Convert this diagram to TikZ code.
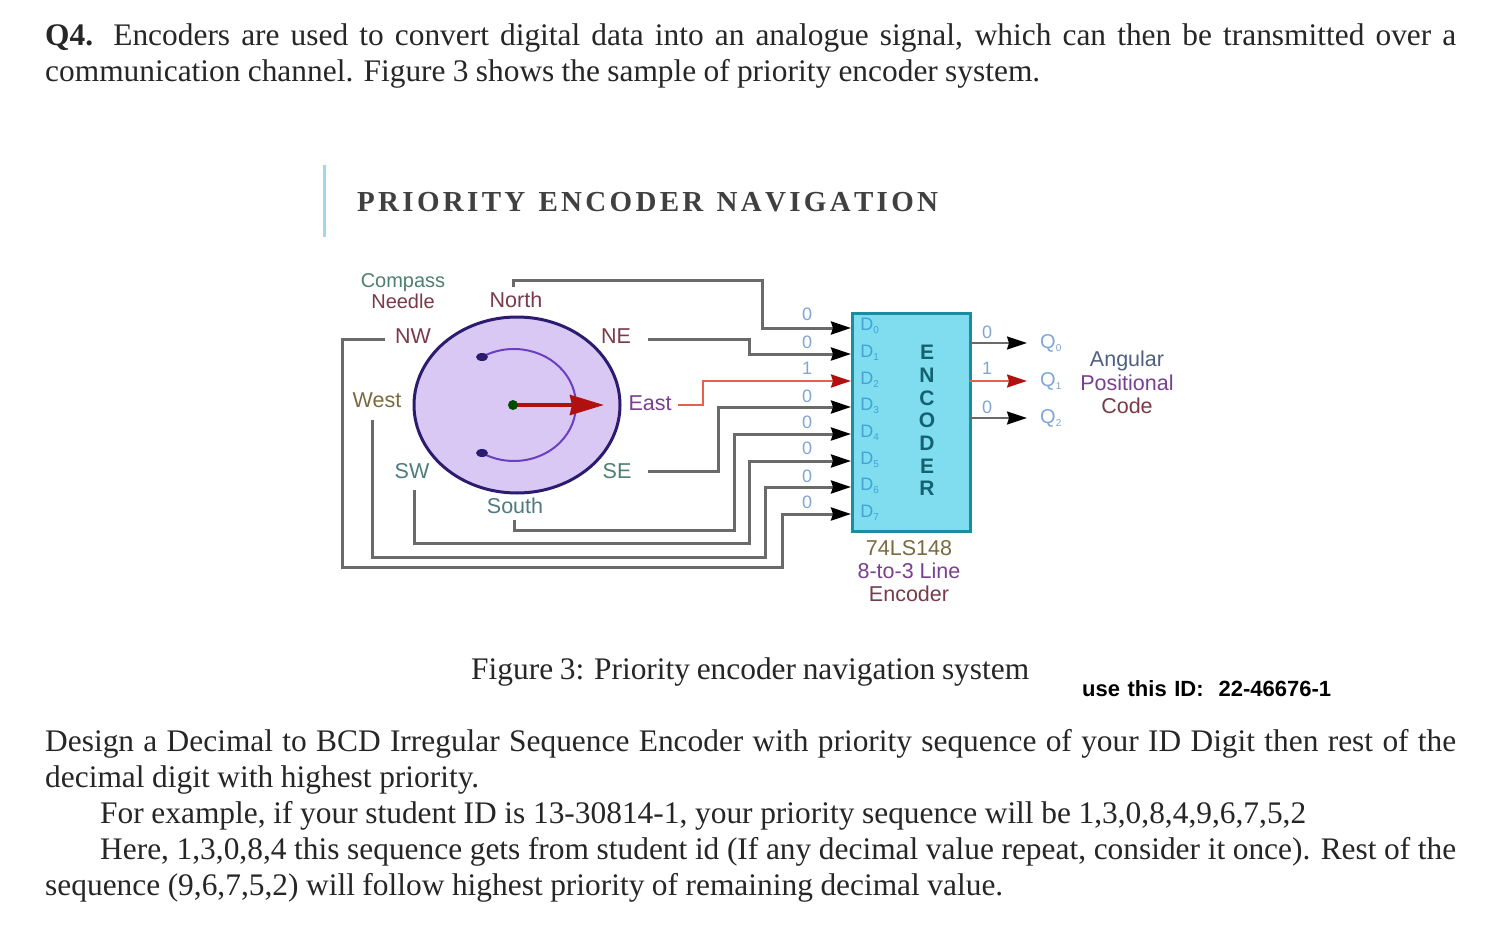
\documentclass[tikz,border=0pt]{standalone}
\usepackage{fontspec}
\setmainfont{Liberation Serif}
\setsansfont{Liberation Sans}
\usetikzlibrary{arrows.meta}
\definecolor{wiregray}{HTML}{6A6A6A}
\definecolor{wirered}{HTML}{E8604C}
\definecolor{bitblue}{HTML}{7FA6D6}
\definecolor{pinblue}{HTML}{3FA3D6}
\definecolor{boxfill}{HTML}{80DDF0}
\definecolor{boxline}{HTML}{1C8CA0}
\definecolor{dialfill}{HTML}{D9C8F3}
\definecolor{dialline}{HTML}{2C1C70}
\definecolor{arcline}{HTML}{6A3FC0}
\definecolor{needle}{HTML}{B01010}
\definecolor{titlebar}{HTML}{A5D5EC}
\definecolor{labgreen}{HTML}{4F7F70}
\definecolor{labred}{HTML}{7A3A4A}
\definecolor{labcyan}{HTML}{4F7A80}
\definecolor{laborange}{HTML}{7A6A40}
\definecolor{labviolet}{HTML}{7A3F90}
\definecolor{labblue}{HTML}{4F5F80}
\newcommand{\bodyline}[1]{\makebox[#1][s]}
\tikzset{
  x=1pt,y=-1pt,
  bodytext/.style={anchor=base west,inner sep=0pt,font=\fontsize{31.4}{36}\selectfont,text=black!85},
  lab/.style={inner sep=0pt,font=\sffamily\fontsize{21.5}{24}\selectfont,text=#1},
  lab/.default=black!70,
  smalllab/.style={inner sep=0pt,font=\sffamily\fontsize{20}{22}\selectfont,text=#1},
  bit/.style={inner sep=0pt,font=\sffamily\fontsize{18}{20}\selectfont,text=bitblue},
  pin/.style={inner sep=0pt,font=\sffamily\fontsize{18}{20}\selectfont,text=pinblue},
  qlab/.style={inner sep=0pt,font=\sffamily\fontsize{20}{22}\selectfont,text=bitblue},
  enc/.style={inner sep=0pt,font=\sffamily\bfseries\fontsize{21}{23}\selectfont,text=boxline!70!black},
  wire/.style={draw=wiregray,line width=3pt,line join=miter},
  redwire/.style={draw=wirered,line width=2.6pt},
  intip/.style={-{Stealth[length=20pt,width=13pt,inset=2pt,black]}},
  redtip/.style={-{Stealth[length=20pt,width=13pt,inset=2pt,needle]}},
  outwire/.style={draw=wiregray,line width=2pt},
}
\begin{document}
\begin{tikzpicture}
\useasboundingbox (0,0) rectangle (1487,941);
\fill[white] (0,0) rectangle (1487,941);

% question text
\node[bodytext] (t1) at (45,46) {\bodyline{1411pt}{\textbf{Q4.} Encoders are used to convert digital data into an analogue signal, which can then be transmitted over a}};
\node[bodytext] (t2) at (45,82) {\bodyline{995pt}{communication channel. Figure 3 shows the sample of priority encoder system.}};
\node[bodytext] (fig) at (471,679) {\bodyline{558pt}{Figure 3: Priority encoder navigation system}};
\node[anchor=base west,inner sep=0pt,font=\sffamily\bfseries\fontsize{22}{24}\selectfont] (id) at (1082,696) {\makebox[249pt][s]{use this ID:\ \ 22-46676-1}};
\node[bodytext] (t3) at (45,751) {\bodyline{1411pt}{Design a Decimal to BCD Irregular Sequence Encoder with priority sequence of your ID Digit then rest of the}};
\node[bodytext] (t4) at (45,787) {\bodyline{434pt}{decimal digit with highest priority.}};
\node[bodytext] (t5) at (100,823) {\bodyline{1206pt}{For example, if your student ID is 13-30814-1, your priority sequence will be 1,3,0,8,4,9,6,7,5,2}};
\node[bodytext] (t6) at (100,859) {\bodyline{1356pt}{Here, 1,3,0,8,4 this sequence gets from student id (If any decimal value repeat, consider it once). Rest of the}};
\node[bodytext] (t7) at (45,895) {\bodyline{958pt}{sequence (9,6,7,5,2) will follow highest priority of remaining decimal value.}};

% title
\coordinate (barT) at (324,165);
\coordinate (barB) at (324,237);
\draw[titlebar,line width=3pt] (barT) -- (barB);
\node[anchor=west,inner sep=0pt,font=\bfseries\fontsize{29}{32}\selectfont,text=black!75] (title) at (357,202) {\makebox[581pt][s]{P\hfil R\hfil I\hfil O\hfil R\hfil I\hfil T\hfil Y\hfil\hfil\hfil\hfil E\hfil N\hfil C\hfil O\hfil D\hfil E\hfil R\hfil\hfil\hfil\hfil N\hfil A\hfil V\hfil I\hfil G\hfil A\hfil T\hfil I\hfil O\hfil N}};

% dial
\path[draw=dialline,fill=dialfill,line width=3pt] (517,405) ellipse [x radius=103,y radius=88];
\coordinate (arcA) at (482,357);
\coordinate (arcB) at (482,453);
\draw[arcline,line width=2pt] (arcA) arc [start angle=-121,end angle=121,x radius=62,y radius=56];
\fill[dialline] (arcA) ellipse [x radius=6,y radius=4];
\fill[dialline] (arcB) ellipse [x radius=6,y radius=4];
\coordinate (hub) at (513,405);
\coordinate (point) at (604,405);
\draw[needle,line width=4pt,-{Stealth[length=34pt,width=20pt,inset=2pt,needle]}] (hub) -- (point);
\fill[black!70!green] (hub) circle (5);

% compass labels
\node[smalllab=labgreen] (cn1) at (403,283) {Compass};
\node[smalllab=labred] (cn2) at (403,301) {Needle};
\node[lab=labred] (north) at (516,300) {North};
\node[lab=labred] (nw) at (413,336) {NW};
\node[lab=labred] (ne) at (616,336) {NE};
\node[lab=laborange] (west) at (377,400) {West};
\node[lab=labviolet] (east) at (650,403) {East};
\node[lab=labcyan] (sw) at (412,471) {SW};
\node[lab=labgreen] (se) at (617,471) {SE};
\node[lab=labcyan] (south) at (515,506) {South};

% encoder
\node[draw=boxline,fill=boxfill,line width=2.6pt,minimum width=118pt,minimum height=218pt,inner sep=0pt,anchor=north west] (box) at (851,312) {};
\foreach \i/\y in {0/328,1/354,2/381,3/407,4/434,5/461,6/487,7/514}{
  \coordinate (d\i) at (851,\y);
}
\foreach \i/\y in {0/326,1/353,2/380,3/406,4/433,5/460,6/486,7/513}{
  \node[pin] (pl\i) at (870,\y) {D\textsubscript{\fontsize{10}{11}\selectfont\i}};
}
\foreach \c/\y [count=\n] in {E/352,N/375,C/398,O/420,D/443,E/466,R/488}{
  \node[enc] (enc\n) at (927,\y) {\c};
}
\foreach \v/\y [count=\n] in {0/314,0/342,1/368,0/396,0/422,0/448,0/476,0/502}{
  \node[bit] (b\n) at (807,\y) {\v};
}

% connector ends
\coordinate (nS) at (513,287);
\coordinate (neS) at (648,339);
\coordinate (eS) at (678,405);
\coordinate (seS) at (648,471);
\coordinate (sS) at (514,520);
\coordinate (swS) at (414,490);
\coordinate (wS) at (372,420);
\coordinate (nwS) at (385,339);

% wires
\draw[wire,intip] (nS) |- (762,280) |- (d0);
\draw[wire,intip] (neS) -- (749,339) |- (d1);
\draw[redwire,redtip] (eS) -- (703,405) |- (d2);
\draw[wire,intip] (seS) -- (718,471) |- (d3);
\draw[wire,intip] (sS) |- (734,530) |- (d4);
\draw[wire,intip] (swS) |- (749,543) |- (d5);
\draw[wire,intip] (wS) |- (765,557) |- (d6);
\draw[wire,intip] (nwS) -- (342,339) |- (782,567) |- (d7);

% outputs
\coordinate (o0) at (969,343);
\coordinate (o1) at (969,381);
\coordinate (o2) at (969,418);
\node[qlab] (q0) at (1051,343) {Q\textsubscript{\fontsize{10}{11}\selectfont 0}};
\node[qlab] (q1) at (1051,381) {Q\textsubscript{\fontsize{10}{11}\selectfont 1}};
\node[qlab] (q2) at (1051,418) {Q\textsubscript{\fontsize{10}{11}\selectfont 2}};
\coordinate (q0e) at (1027,343);
\coordinate (q1e) at (1027,381);
\coordinate (q2e) at (1027,418);
\draw[outwire,intip] (o0) -- (q0e);
\draw[draw=wirered,line width=2.2pt,redtip] (o1) -- (q1e);
\draw[outwire,intip] (o2) -- (q2e);
\node[bit] (ob0) at (987,332) {0};
\node[bit] (ob1) at (987,368) {1};
\node[bit] (ob2) at (987,407) {0};

\node[lab=labblue] (ang1) at (1127,361) {Angular};
\node[lab=labviolet] (ang2) at (1127,383) {Positional};
\node[lab=labred] (ang3) at (1127,406) {Code};

\node[lab=laborange] (ic1) at (909,548) {74LS148};
\node[lab=labviolet] (ic2) at (909,571) {8-to-3 Line};
\node[lab=labred] (ic3) at (909,594) {Encoder};
\end{tikzpicture}
\end{document}
